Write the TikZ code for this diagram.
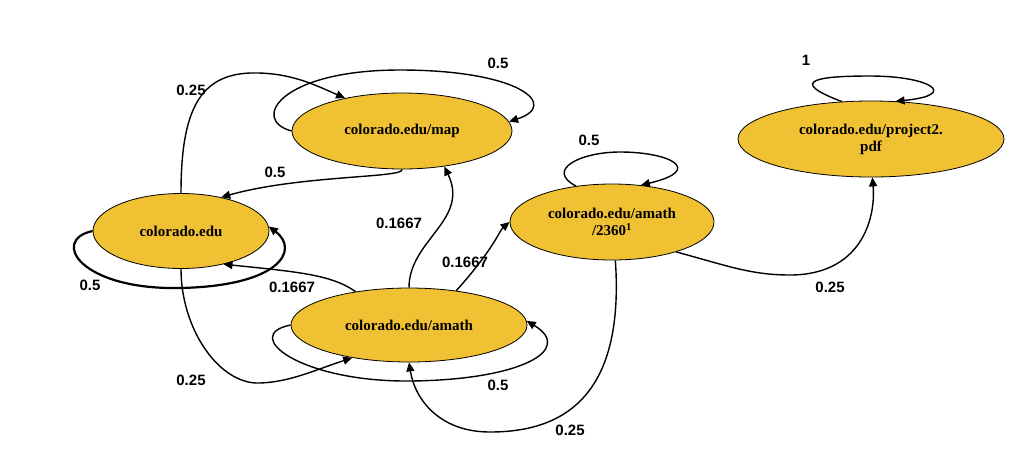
\documentclass[tikz,border=0pt]{standalone}
\usepackage{fontspec}
\setmainfont{Liberation Serif}
\newfontfamily\lblfont{Liberation Sans}
\usetikzlibrary{shapes.geometric,arrows.meta}
\definecolor{gold}{HTML}{F0C132}
\begin{document}
\begin{tikzpicture}[x=1pt,y=-1pt,
  st/.style={ellipse,draw=black,fill=gold,line width=0.8pt,inner sep=0pt,font=\fontsize{15}{17}\selectfont\bfseries,align=center},
  ed/.style={draw,line width=1.4pt,-{Triangle[length=9pt,width=8pt]}},
  lb/.style={font=\lblfont\fontsize{15}{17}\selectfont\bfseries}]
\useasboundingbox (0,0) rectangle (1024,459);
\node[st,minimum width=176pt,minimum height=75pt] (home) at (181,231) {colorado.edu};
\node[st,minimum width=220pt,minimum height=76pt] (map) at (402,131) {colorado.edu/map};
\node[st,minimum width=236pt,minimum height=74pt] (amath) at (409,325) {colorado.edu/amath};
\node[st,minimum width=204pt,minimum height=76pt] (a2360) at (612,222) {colorado.edu/amath\\/2360$^{\mathbf{1}}$};
\node[st,minimum width=266pt,minimum height=76pt] (pdf) at (871,139) {colorado.edu/project2.\\pdf};
% map self loop
\draw[ed] (map.180) .. controls (250,120) and (280,70) .. (400,70) .. controls (520,70) and (560,105) .. (map.5);
\node[lb] (l1) at (498,63) {0.5};
% home -> map
\draw[ed] (home.90) .. controls (181,110) and (200,75) .. (250,73) .. controls (290,72) and (315,85) .. (map.150);
\node[lb] (l2) at (191,90) {0.25};
% map -> home
\draw[ed] (map.270) .. controls (405,178) and (300,175) .. (home.40);
\node[lb] (l3) at (275,172) {0.5};
% home self loop
\draw[ed,line width=2.2pt] (home.180) .. controls (50,240) and (80,290) .. (180,288) .. controls (280,286) and (300,250) .. (home.3);
\node[lb] (l4) at (90,285) {0.5};
% amath -> home
\draw[ed] (amath.148) .. controls (332,275) and (300,272) .. (home.-38);
\node[lb] (l5) at (292,287) {0.1667};
% home -> amath
\draw[ed] (home.270) .. controls (181,330) and (220,385) .. (260,383) .. controls (290,382) and (315,370) .. (amath.210);
\node[lb] (l6) at (191,380) {0.25};
% amath self loop
\draw[ed] (amath.180) .. controls (240,335) and (300,382) .. (410,381) .. controls (520,380) and (575,350) .. (amath.2);
\node[lb] (l7) at (498,385) {0.5};
% amath -> map
\draw[ed] (amath.90) .. controls (409,240) and (470,220) .. (map.-40);
\node[lb] (l8) at (399,223) {0.1667};
% amath -> a2360
\draw[ed] (amath.36) .. controls (493,250) and (500,230) .. (a2360.180);
\node[lb] (l9) at (465,262) {0.1667};
% a2360 self loop
\draw[ed] (a2360.135) .. controls (545,170) and (580,152) .. (620,152) .. controls (670,152) and (705,170) .. (a2360.52);
\node[lb] (l10) at (589,140) {0.5};
% a2360 -> amath
\draw[ed] (a2360.-85) .. controls (625,400) and (560,432) .. (490,432) .. controls (440,432) and (415,400) .. (amath.270);
\node[lb] (l11) at (570,430) {0.25};
% a2360 -> pdf
\draw[ed] (a2360.-25) .. controls (725,265) and (750,275) .. (790,275) .. controls (860,275) and (876,220) .. (pdf.-88);
\node[lb] (l12) at (830,287) {0.25};
% pdf self loop
\draw[ed] (pdf.128) .. controls (785,80) and (820,76) .. (870,76) .. controls (930,76) and (960,95) .. (pdf.57);
\node[lb] (l13) at (806,60) {1};
\end{tikzpicture}
\end{document}
